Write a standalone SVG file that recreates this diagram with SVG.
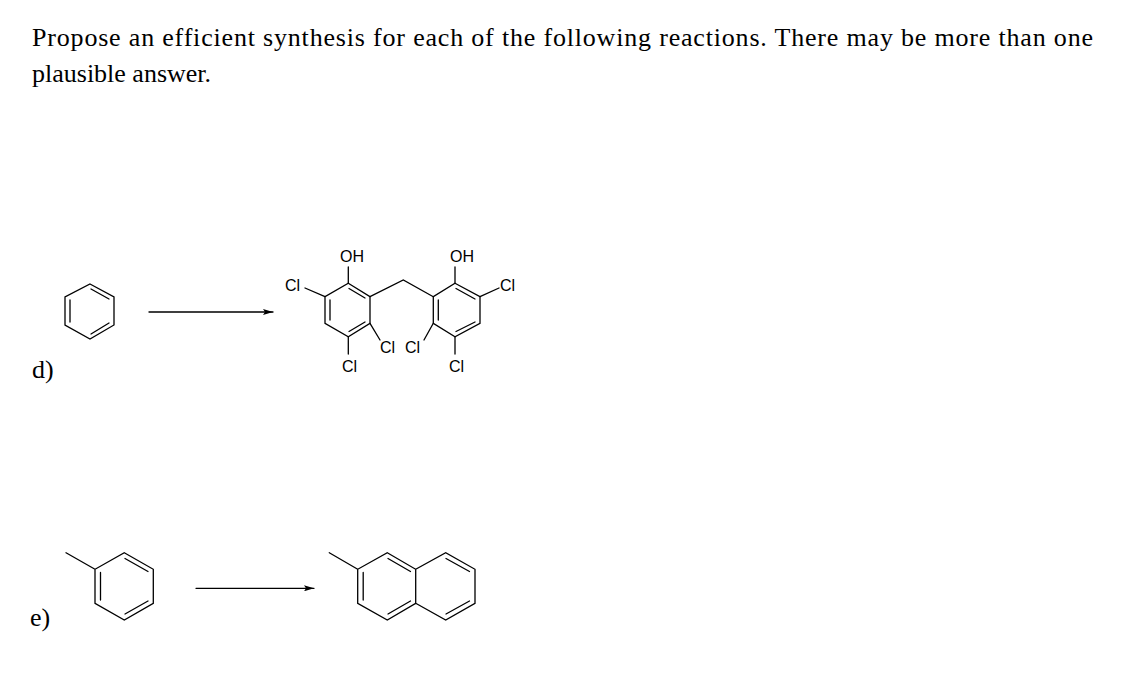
<svg xmlns="http://www.w3.org/2000/svg" width="1138" height="685" viewBox="0 0 1138 685">
<defs>
<marker id="ah" viewBox="0 0 10 6" refX="10" refY="3" markerWidth="10" markerHeight="6" markerUnits="userSpaceOnUse" orient="auto"><path d="M0,0 L10,3 L0,6 L2,3 Z" fill="#000"/></marker>
</defs>
<style>
.b{stroke:#000;stroke-width:1.3;fill:none;stroke-linecap:round}
.t{font-family:"Liberation Serif",serif;font-size:26px;fill:#000}
.a{font-family:"Liberation Sans",Arial,sans-serif;font-size:16px;fill:#000}
</style>
<rect width="1138" height="685" fill="#fff"/>
<text class="t" x="32" y="46" textLength="1061">Propose an efficient synthesis for each of the following reactions. There may be more than one</text>
<text class="t" x="32" y="82">plausible answer.</text>
<text class="t" x="32" y="378">d)</text>
<text class="t" x="30" y="626">e)</text>
<g id="benzene">
<path class="b" d="M90,284 L114,297 L114,325 L90,339 L65,325 L65,297 Z"/>
<path class="b" d="M70,300 L70,322 M91,289 L109,299 M91,334 L109,323"/>
</g>
<g id="product-d">
<path class="b" d="M348.3,283.3 L370,296.7 L370,323.3 L348.3,336.7 L325,323.3 L325,296.7 Z"/>
<path class="b" d="M330,300 L330,320 M349,288.5 L365,298 M349,331.5 L365,322"/>
<path class="b" d="M455,283.3 L480,296.7 L480,323.3 L455,336.7 L433.3,323.3 L433.3,296.7 Z"/>
<path class="b" d="M438.3,300 L438.3,320 M456,288.5 L475,299 M456,331.5 L475,322"/>
<path class="b" d="M348.3,283.3 L348.3,267 M455,283.3 L455,267 M325,296.7 L305,288 M480,296.7 L499,288 M348.3,336.7 L348.3,354 M455,336.7 L455,354 M370,323.3 L380,340 M433.3,323.3 L424,340 M370,296.7 L403.3,280 L433.3,296.7"/>
<text class="a" x="340" y="262">OH</text>
<text class="a" x="450" y="262">OH</text>
<text class="a" x="285" y="291">Cl</text>
<text class="a" x="500" y="291">Cl</text>
<text class="a" x="342" y="372">Cl</text>
<text class="a" x="449" y="372">Cl</text>
<text class="a" x="380" y="353">Cl</text>
<text class="a" x="405" y="353">Cl</text>
</g>
<g id="toluene">
<path class="b" d="M124.3,552.7 L153.3,569.3 L153.3,603.3 L124.3,620 L95,603.3 L95,569.3 Z M95,569.3 L66,552.7"/>
<path class="b" d="M100.5,572.5 L100.5,600 M125,558.5 L148,571.5 M125,614 L148,601"/>
</g>
<g id="methylnaphthalene">
<path class="b" d="M387.3,552.7 L415.7,569.3 L415.7,603.3 L387.3,620 L357.7,603.3 L357.7,569.3 Z M357.7,569.3 L329.3,552.7 M415.7,569.3 L445.7,552.7 L475,569.3 L475,603.3 L445.7,620 L415.7,603.3"/>
<path class="b" d="M363.2,572.5 L363.2,600 M388,558.5 L410.5,571.5 M388,614 L410.5,601 M446,558.5 L469.5,571.5 M446,614 L469.5,601"/>
</g>
<g id="connectors">
<line class="b" x1="149" y1="312" x2="273" y2="312" marker-end="url(#ah)"/>
<line class="b" x1="196" y1="588.3" x2="314" y2="588.3" marker-end="url(#ah)"/>
</g>
</svg>
